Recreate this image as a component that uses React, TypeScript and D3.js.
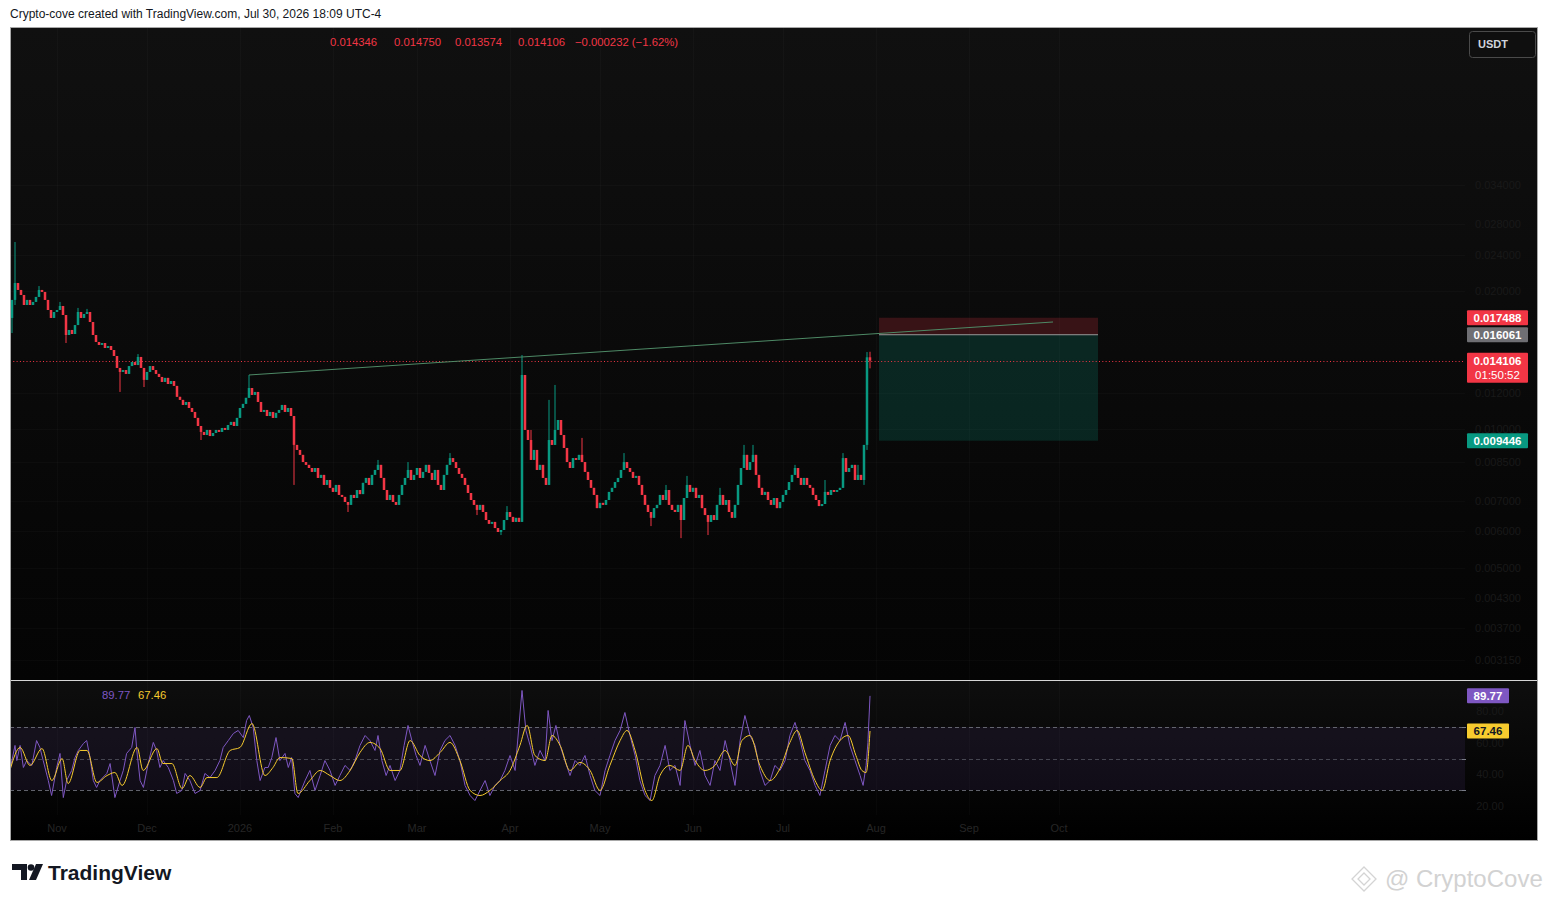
import React from 'react';
import * as d3 from 'd3';

// ---------- DATA ----------
// Daily candles from 2025-10-17 to 2026-07-30, prices in units of 1e-5 USDT
const firstDay = Date.UTC(2025, 9, 17);
const firstOpen = 1747;
const closes = [
  1912, 2081, 2010, 1960, 1864, 1912, 1864, 1893, 1941, 2010,
  1990, 1912, 1818, 1747, 1800, 1818, 1855, 1773, 1604, 1645,
  1612, 1686, 1800, 1747, 1782, 1800, 1712, 1604, 1549, 1526,
  1541, 1503, 1518, 1488, 1444, 1360, 1333, 1346, 1320, 1373,
  1401, 1380, 1437, 1360, 1281, 1333, 1373, 1346, 1320, 1300,
  1268, 1294, 1255, 1274, 1243, 1177, 1159, 1130, 1147, 1113,
  1091, 1059, 1017, 987, 972, 997, 967, 982, 997, 987,
  1007, 997, 1022, 1038, 1017, 1059, 1113, 1136, 1171, 1230,
  1188, 1206, 1147, 1091, 1102, 1069, 1091, 1059, 1086, 1102,
  1130, 1091, 1113, 1069, 925, 902, 880, 849, 837, 824,
  808, 824, 784, 796, 757, 776, 746, 731, 757, 720,
  713, 695, 685, 720, 709, 738, 723, 765, 784, 757,
  796, 816, 837, 784, 738, 702, 720, 695, 685, 720,
  757, 784, 816, 776, 796, 824, 784, 808, 837, 804,
  776, 816, 757, 738, 796, 837, 866, 849, 824, 800,
  784, 757, 727, 702, 685, 668, 685, 661, 635, 623,
  629, 610, 598, 604, 635, 661, 645, 629, 642, 629,
  1313, 997, 948, 858, 902, 816, 837, 784, 757, 948,
  925, 997, 1048, 972, 911, 849, 824, 866, 858, 880,
  849, 808, 776, 746, 720, 674, 692, 685, 702, 731,
  746, 768, 784, 816, 849, 824, 808, 784, 792, 757,
  720, 685, 661, 642, 674, 685, 720, 702, 738, 685,
  668, 661, 685, 635, 709, 757, 731, 746, 709, 720,
  674, 651, 629, 651, 635, 685, 720, 685, 702, 661,
  642, 685, 757, 824, 880, 816, 849, 880, 796, 746,
  720, 731, 702, 685, 709, 674, 695, 720, 738, 768,
  796, 824, 784, 757, 784, 757, 746, 720, 702, 681,
  688, 731, 720, 738, 731, 738, 746, 866, 808, 824,
  837, 776, 796, 776, 925, 1434.6, 1410.6,
];
// visible wicks [day index, price e-5]
const highWicks: [number, number][] = [
  [1, 2556], [9, 2050], [16, 1893], [22, 1837], [25, 1828], [42, 1458], [79, 1313],
  [122, 858], [132, 849], [146, 888], [165, 681], [170, 1451], [173, 997], [179, 1159],
  [181, 1249], [190, 958], [204, 888], [218, 757], [225, 792], [236, 746], [244, 925],
  [247, 925], [261, 837], [271, 776], [277, 888], [282, 837], [285, 1473], [286, 1475],
];
const lowWicks: [number, number][] = [
  [0, 1620], [1, 1864], [18, 1541], [36, 1206], [44, 1236], [63, 948], [94, 757],
  [112, 661], [155, 651], [163, 589], [213, 616], [223, 580], [232, 589], [284, 757],
  [285, 902], [286, 1357.4],
];

// RSI readings [day index, value]
const rsiPoints: [number, number][] = [
  [-0.7, 42.4], [1, 58.3], [1.6, 48.7], [2.7, 58.3], [3.8, 44.3], [4.9, 48.7], [6.6, 45.6], [8.2, 61.4], [9.3, 57], [10.4, 48.7],
  [12.1, 36], [13.2, 26.5], [14.9, 44.3], [16, 53.2], [17.1, 25.2], [18.2, 36], [19.9, 42.4], [21, 50.6], [22.1, 55.1], [23.8, 59.5],
  [24.9, 61.4], [26, 50.6], [27.1, 36], [28.2, 31.6], [29.3, 36], [31.6, 40.5], [32.7, 46.8], [34.3, 25.2], [36, 36], [37.1, 42.4],
  [38.2, 53.2], [39.9, 57], [41, 69.7], [41.6, 55.1], [42.7, 36], [43.8, 31.6], [45.4, 46.8], [47.1, 60.2], [48.2, 55.1], [49.3, 44.3],
  [50.4, 48.7], [52.1, 44.3], [53.8, 36], [54.9, 27.8], [56.6, 29.7], [57.7, 40.5], [59.3, 36], [61, 27.8], [62.7, 29.7], [64.3, 40.5],
  [66, 37.9], [67.7, 42.4], [69.3, 48.7], [70.4, 57], [72.1, 61.4], [73.8, 65.9], [75.4, 67.8], [77.1, 63.3], [78.2, 74.1], [79.1, 77.3],
  [80.4, 69.7], [81.6, 48.7], [82.7, 36], [84.3, 44.3], [85.4, 44.3], [86.6, 50.6], [88, 63.3], [89.3, 48.7], [91, 53.2], [92.1, 44.3],
  [93.2, 50.6], [94.3, 27.8], [95.4, 25.2], [97.7, 36], [99.3, 42.4], [101, 29.7], [102.7, 39.2], [104.3, 48.7], [106, 42.4], [107.7, 32.9],
  [109.3, 39.2], [111, 45.6], [112.7, 42.4], [114.3, 48.7], [116, 58.3], [117.7, 64.6], [119.3, 61.4], [121, 55.1], [122, 64.6], [123.3, 48.7],
  [124.7, 39.2], [126, 45.6], [127.7, 36], [129.3, 42.4], [130.7, 58.3], [132, 71], [133.3, 61.4], [134.7, 51.9], [136, 45.6], [137.7, 58.3],
  [139.3, 48.7], [141, 39.2], [142.7, 55.1], [144.3, 61.4], [146, 64.6], [147.7, 58.3], [149.3, 48.7], [151, 32.9], [152.7, 26.5], [154.3, 23.3],
  [156, 29.7], [157.7, 36], [159.3, 26.5], [161, 32.9], [162.7, 36], [164.3, 42.4], [166, 51.9], [167.7, 42.4], [170, 93.2], [171.3, 67.8],
  [172.7, 58.3], [174.3, 45.6], [176, 55.1], [177.7, 48.7], [178.7, 80.5], [180, 61.4], [181.3, 71], [182.7, 58.3], [184.3, 48.7], [186, 39.2],
  [187.7, 48.7], [189.3, 45.6], [191, 51.9], [192.7, 39.2], [194.3, 29.7], [196, 26.5], [197.7, 42.4], [199.3, 51.9], [201, 61.4], [202.7, 67.8],
  [204.3, 79.2], [206, 64.6], [207.7, 51.9], [209.3, 36], [211, 26.5], [212.7, 23.3], [214.3, 39.2], [216, 45.6], [217.7, 58.3], [219.3, 42.4],
  [221, 45.6], [222.7, 32.9], [224.3, 74.1], [226, 58.3], [227.7, 45.6], [229.3, 55.1], [231, 39.2], [232.7, 32.9], [234.3, 48.7], [236, 42.4],
  [237.7, 61.4], [239.3, 48.7], [241, 32.9], [242.7, 61.4], [244.3, 77.3], [246, 64.6], [247.7, 58.3], [249.3, 42.4], [251, 32.9], [252.7, 36],
  [254.3, 45.6], [256, 42.4], [257.7, 48.7], [259.3, 64.6], [261, 72.9], [262.7, 61.4], [264.3, 48.7], [266, 42.4], [267.7, 32.9], [269.3, 26.5],
  [271, 42.4], [272.7, 58.3], [274.3, 64.6], [276, 61.4], [277.7, 72.9], [279.3, 58.3], [281, 48.7], [282.7, 39.2], [283.7, 32.9], [284.7, 45.6],
  [285.3, 60], [286, 89.77],
];
const rsiMaPoints: [number, number][] = [
  [-0.7, 42.4], [2.7, 57], [6, 45.6], [10, 56.3], [13.3, 36], [16.7, 50], [18.7, 34.1], [22.7, 55.1], [25, 55.1], [28.3, 34.8],
  [31.7, 39.2], [34.3, 41.1], [36.7, 32.9], [41.7, 57], [43.7, 42.4], [48.3, 56.3], [50.3, 46.8], [53.3, 46.8], [56.7, 31], [59.3, 39.2],
  [62.7, 31.6], [65, 37.9], [68.3, 37.9], [72.7, 55.1], [76, 57], [80, 72.2], [84.3, 39.2], [87, 44.3], [89.3, 50.6], [93.3, 50],
  [95.3, 27.8], [99.3, 36], [102.7, 42.4], [106, 39.2], [109.3, 36], [112.7, 42.4], [116, 53.8], [119.3, 60.2], [122.7, 56.3], [126, 42.4],
  [129.3, 42.4], [132.7, 61.4], [136, 51.9], [139.3, 48.7], [142.7, 53.8], [146, 60.2], [149.3, 48.7], [152.7, 29.7], [156, 26.5], [159.3, 29.7],
  [162.7, 36], [166, 42.4], [169.3, 58.3], [171.7, 71], [174.3, 51.9], [177.7, 48.7], [180, 64.6], [182.7, 58.3], [186, 42.4], [189.3, 47.5],
  [192.7, 42.4], [196, 29.7], [199.3, 45.6], [202.7, 61.4], [205, 67.8], [207.7, 55.1], [211, 29.7], [213.3, 23.3], [216, 39.2], [219.3, 45.6],
  [222.7, 42.4], [225.3, 58.3], [227.7, 48.7], [231, 42.4], [234.3, 45.6], [237.7, 55.1], [241, 45.6], [243.3, 61.4], [246, 64.6], [249.3, 45.6],
  [252.7, 36], [256, 43.7], [259.3, 60.2], [261.7, 67.8], [264.3, 53.8], [267.7, 36], [270, 29.7], [272.7, 48.7], [276, 61.4], [278.7, 64.6],
  [281.3, 51.9], [283.3, 42.4], [284.7, 41.1], [286, 67.46],
];

const priceTicks = [0.034, 0.028, 0.024, 0.02, 0.012, 0.01, 0.0085, 0.007, 0.006, 0.005, 0.0043, 0.0037, 0.00315];
const rsiTicks = [80, 60, 40, 20];
const rsiLevels = [70, 50, 30];
const monthLabels = ['Nov', 'Dec', '2026', 'Feb', 'Mar', 'Apr', 'May', 'Jun', 'Jul', 'Aug', 'Sep', 'Oct'];
const monthDates = monthLabels.map((_, i) => Date.UTC(2025, 10 + i, 1));
const ohlcLegend = ['0.014346', '0.014750', '0.013574', '0.014106', '\u22120.000232 (\u22121.62%)'];
const rsiLegend = ['89.77', '67.46'];
const lastPrice = 0.014106;
const countdown = '01:50:52';
// position tool (short)
const posEntry = 0.016061;
const posStop = 0.017488;
const posTarget = 0.009446;
const posStart = Date.UTC(2026, 7, 2);
const posEnd = Date.UTC(2026, 9, 14);
// trend line
const trendStart: [number, number] = [Date.UTC(2026, 0, 4), 0.01313];
const trendEnd: [number, number] = [Date.UTC(2026, 8, 29), 0.01712];

const DAY = 86400000;
const FONT = "'Liberation Sans', Arial, Helvetica, sans-serif";
const GREEN = '#089981';
const RED = '#f23645';

export default function App() {
  const x = d3.scaleUtc().domain([new Date(Date.UTC(2025, 10, 1)), new Date(Date.UTC(2026, 9, 1))]).range([57, 1059]);
  const y = d3.scaleLog().domain([0.00315, 0.034]).range([660, 185]);
  const yr = d3.scaleLinear().domain([30, 70]).range([790, 727]);
  const dx = (d: number) => x(new Date(firstDay + d * DAY));
  const hi = new Map(highWicks);
  const lo = new Map(lowWicks);
  const candles = closes.map((c, i) => {
    const o = i === 0 ? firstOpen : closes[i - 1];
    const h = Math.max(o, c, hi.get(i) ?? 0);
    const l = Math.min(o, c, lo.get(i) ?? Infinity);
    return { i, o: o / 1e5, c: c / 1e5, h: h / 1e5, l: l / 1e5 };
  });
  const rsiLine = d3.line<[number, number]>().x((p) => dx(p[0])).y((p) => yr(p[1]));
  const maLine = d3.line<[number, number]>().x((p) => dx(p[0])).y((p) => yr(p[1])).curve(d3.curveMonotoneX);

  const PL = 10, PR = 1465, PT = 28, PB = 680, RT = 681, RB = 815;
  const tag = (yy: number, fill: string, text: string, color = '#fff', w = 61) => (
    <g key={text + yy}>
      <rect x={1467} y={yy - 7.5} width={w} height={15} fill={fill} rx={1} />
      <text x={1467 + w / 2} y={yy + 4} textAnchor="middle" fontSize={11.5} fontWeight={700} fill={color}>{text}</text>
    </g>
  );

  const yLast = y(lastPrice);
  return (
    <svg width={1549} height={902} style={{ position: 'absolute', left: 0, top: 0, background: '#fff' }} fontFamily={FONT}>
      <defs>
        <linearGradient id="bgP" x1="0" y1="0" x2="0" y2="1">
          <stop offset="0" stopColor="#101010" />
          <stop offset="1" stopColor="#040404" />
        </linearGradient>
        <linearGradient id="bgR" x1="0" y1="0" x2="0" y2="1">
          <stop offset="0" stopColor="#0e0e0e" />
          <stop offset="1" stopColor="#000000" />
        </linearGradient>
        <clipPath id="cp"><rect x={PL} y={PT} width={PR - PL} height={PB - PT} /></clipPath>
        <clipPath id="cr"><rect x={PL} y={RT} width={PR - PL} height={RB - RT} /></clipPath>
      </defs>

      <text x={10} y={18} fontSize={12} fill="#131722">Crypto-cove created with TradingView.com, Jul 30, 2026 18:09 UTC-4</text>

      <rect x={10} y={27} width={1528} height={653} fill="url(#bgP)" />
      <rect x={10} y={680} width={1528} height={161} fill="url(#bgR)" />

      {/* grid */}
      <g stroke="#ffffff" strokeOpacity={0.022}>
        {priceTicks.map((t) => <line key={t} x1={PL} x2={PR} y1={Math.round(y(t)) + 0.5} y2={Math.round(y(t)) + 0.5} />)}
        {monthDates.map((m) => <line key={m} x1={Math.round(x(new Date(m))) + 0.5} x2={Math.round(x(new Date(m))) + 0.5} y1={PT} y2={RB} />)}
      </g>

      {/* position tool */}
      <g>
        <rect x={x(new Date(posStart))} y={y(posStop)} width={x(new Date(posEnd)) - x(new Date(posStart))} height={y(posEntry) - y(posStop)} fill="rgba(242,54,69,0.2)" />
        <rect x={x(new Date(posStart))} y={y(posEntry)} width={x(new Date(posEnd)) - x(new Date(posStart))} height={y(posTarget) - y(posEntry)} fill="rgba(8,153,129,0.2)" />
        <line x1={x(new Date(posStart))} x2={x(new Date(posEnd))} y1={y(posEntry)} y2={y(posEntry)} stroke="#9a9a9a" strokeWidth={1} />
      </g>

      {/* current price dotted line */}
      <line x1={PL} x2={PR} y1={Math.round(yLast) + 0.5} y2={Math.round(yLast) + 0.5} stroke={RED} strokeDasharray="1 2.3" />

      {/* candles */}
      <g clipPath="url(#cp)">
        {candles.map((d) => {
          const cx = Math.round(dx(d.i));
          const col = d.c >= d.o ? GREEN : RED;
          const yt = y(Math.max(d.o, d.c));
          const yb = y(Math.min(d.o, d.c));
          return (
            <g key={d.i} fill={col}>
              <rect x={cx - 0.5} y={y(d.h)} width={1} height={Math.max(1, y(d.l) - y(d.h))} />
              <rect x={cx - 1.25} y={yt} width={2.5} height={Math.max(1.5, yb - yt)} />
            </g>
          );
        })}
      </g>

      {/* trend line */}
      <line x1={x(new Date(trendStart[0]))} y1={y(trendStart[1])} x2={x(new Date(trendEnd[0]))} y2={y(trendEnd[1])} stroke="#4e8a66" strokeWidth={1} />

      {/* legend */}
      <g fontSize={11.3} fill={RED}>
        {ohlcLegend.map((t, i) => <text key={i} x={[330, 394, 455, 518, 575][i]} y={46}>{t}</text>)}
      </g>

      {/* RSI pane */}
      <g>
        <rect x={PL} y={yr(70)} width={PR - PL} height={yr(30) - yr(70)} fill="rgba(126,87,194,0.1)" />
        {rsiLevels.map((l) => (
          <line key={l} x1={PL} x2={PR} y1={Math.round(yr(l)) + 0.5} y2={Math.round(yr(l)) + 0.5} stroke="#787b86" strokeOpacity={l === 50 ? 0.5 : 0.8} strokeDasharray="4 3" />
        ))}
        <g clipPath="url(#cr)">
          <path d={rsiLine(rsiPoints) || ''} fill="none" stroke="#7e57c2" strokeWidth={1} />
          <path d={maLine(rsiMaPoints) || ''} fill="none" stroke="#f7cb2e" strokeWidth={1} />
        </g>
        <text x={102} y={699} fontSize={11.3} fill="#7e57c2">{rsiLegend[0]}</text>
        <text x={138} y={699} fontSize={11.3} fill="#f7cb2e">{rsiLegend[1]}</text>
      </g>

      {/* separator */}
      <line x1={10} x2={1538} y1={680.5} y2={680.5} stroke="#d6d6d6" />

      {/* price axis labels (faint) */}
      <g fontSize={11} fill="#191919" textAnchor="middle">
        {priceTicks.map((t) => <text key={t} x={1498} y={y(t) + 4}>{t.toFixed(6)}</text>)}
        {rsiTicks.map((t) => <text key={t} x={1490} y={yr(t) + 4}>{t.toFixed(2)}</text>)}
      </g>
      <g stroke="#787b86">
        {rsiLevels.map((l) => <line key={l} x1={1462} x2={1466} y1={Math.round(yr(l)) + 0.5} y2={Math.round(yr(l)) + 0.5} />)}
      </g>

      {/* time axis */}
      <g fontSize={11} fill="#262626" textAnchor="middle">
        {monthLabels.map((m, i) => <text key={m} x={x(new Date(monthDates[i]))} y={832}>{m}</text>)}
      </g>

      {/* price tags */}
      {tag(y(posStop), RED, posStop.toFixed(6))}
      {tag(y(posEntry), '#6f6f73', posEntry.toFixed(6))}
      <g>
        <rect x={1467} y={yLast - 8} width={61} height={30} fill={RED} rx={1} />
        <text x={1497.5} y={yLast + 4} textAnchor="middle" fontSize={11.5} fontWeight={700} fill="#fff">{lastPrice.toFixed(6)}</text>
        <text x={1497.5} y={yLast + 18} textAnchor="middle" fontSize={11.5} fill="#fff">{countdown}</text>
      </g>
      {tag(y(posTarget), GREEN, posTarget.toFixed(6))}
      {tag(yr(89.77), '#7e57c2', rsiLegend[0], '#fff', 42)}
      {tag(yr(67.46), '#f7cb2e', rsiLegend[1], '#131722', 42)}

      {/* USDT button */}
      <rect x={1469.5} y={31.5} width={66} height={26} rx={3} fill="#0f0f0f" stroke="#4a4a4a" />
      <text x={1478} y={48} fontSize={11} fontWeight={700} fill="#d1d4dc">USDT</text>

      {/* frame */}
      <rect x={10.5} y={27.5} width={1527} height={813} fill="none" stroke="#a8a8a8" />

      {/* TradingView logo */}
      <g fill="#131722">
        <path d="M12 864 H27 V880 H21 V870 H12 Z" />
        <circle cx={31} cy={867.5} r={3.3} />
        <path d="M36 864 H43 L36 880 H29 Z" />
        <text x={48} y={880} fontSize={21} fontWeight={700} letterSpacing={0}>TradingView</text>
      </g>

      {/* watermark */}
      <g fill="none" stroke="#d4d4d4" strokeWidth={1.3}>
        <path d="M1364 867 L1376 879 L1364 891 L1352 879 Z" />
        <path d="M1364 873 L1370 879 L1364 885 L1358 879 Z" />
      </g>
      <text x={1385} y={887} fontSize={24} fill="#d2d2d2">@ CryptoCove</text>
    </svg>
  );
}
